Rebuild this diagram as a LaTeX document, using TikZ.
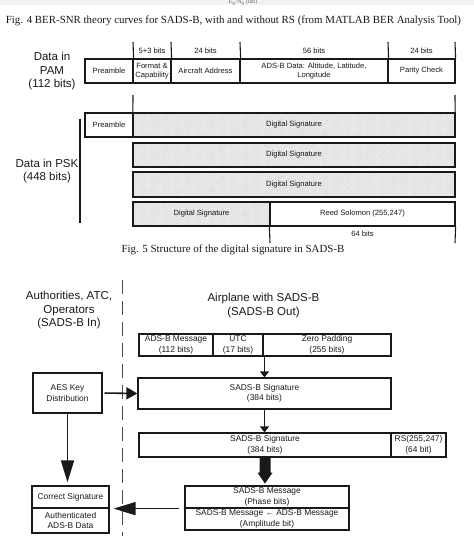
\documentclass[tikz,border=0pt]{standalone}
\usepackage{fontspec}
\setmainfont{Liberation Sans}
\newfontfamily\capfont{Liberation Serif}
\usetikzlibrary{arrows.meta,patterns.meta}
\begin{document}
\begin{tikzpicture}[x=1pt,y=-1pt,
  box/.style={draw=black!90, line width=1.2pt, inner sep=0pt, align=center, text=black!90},
  small/.style={font=\fontsize{7.6}{8.8}\selectfont},
  mid/.style={font=\fontsize{8.4}{10.6}\selectfont},
  big/.style={font=\fontsize{11.5}{13.5}\selectfont, align=center, text=black!90, inner sep=0pt},
  lbl/.style={font=\fontsize{7.6}{8.8}\selectfont, text=black!90, inner sep=0pt},
  capt/.style={font=\capfont\fontsize{10.9}{12}\selectfont, text=black!90, inner sep=0pt},
  hatch/.style={preaction={fill=gray!10}, pattern={Lines[angle=45,distance=1.3pt,line width=0.25pt]}, pattern color=gray!40},
  conn/.style={draw=black!90, line width=1.1pt},
  arrS/.style={draw=black!90, line width=1.6pt, -{Triangle[length=6pt,width=9pt]}},
  arrM/.style={draw=black!90, line width=1.6pt, -{Triangle[length=11pt,width=12pt]}},
  arrL/.style={draw=black!90, line width=1.6pt, -{Triangle[length=22pt,width=13pt]}},
  dashline/.style={draw=black!70, line width=1pt, dash pattern=on 14pt off 7pt}
]
\useasboundingbox (0,0) rectangle (474,549);
\fill[gray!10] (0,0) rectangle (474,5);
\node[font=\capfont\fontsize{6}{7}\selectfont, text=black!60, inner sep=0pt] (xlab) at (243,2.6) {E\textsubscript{b}/N\textsubscript{0} (dB)};

% ---------- Fig. 4 caption ----------
\node[capt] (cap4) at (233.5,20.5) {Fig. 4 BER-SNR theory curves for SADS-B, with and without RS (from MATLAB BER Analysis Tool)};

% ---------- Fig. 5 : PAM row ----------
\coordinate (t1) at (133,42); \coordinate (t2) at (171,42); \coordinate (t3) at (240,42);
\coordinate (t4) at (388,42); \coordinate (t5) at (455,42);
\node[box,small,minimum width=48pt,minimum height=24pt] (pre1) at (109,71) {Preamble};
\node[box,small,minimum width=38pt,minimum height=24pt] (fmt) at (152,71) {Format \&\\Capability};
\node[box,small,minimum width=69pt,minimum height=24pt] (addr) at (205.5,71) {Aircraft Address};
\node[box,small,minimum width=148pt,minimum height=24pt] (data) at (314,71) {ADS-B Data: Altitude, Latitude,\\Longitude};
\node[box,small,minimum width=67pt,minimum height=24pt] (par) at (421.5,71) {Parity Check};
\draw[conn] (t1) -- (pre1.north east);
\draw[conn] (t2) -- (fmt.north east);
\draw[conn] (t3) -- (addr.north east);
\draw[conn] (t4) -- (data.north east);
\draw[conn] (t5) -- (par.north east);
\node[lbl] (b1) at (152,51) {5+3 bits};
\node[lbl] (b2) at (205.5,51) {24 bits};
\node[lbl] (b3) at (314,51) {56 bits};
\node[lbl] (b4) at (421.5,51) {24 bits};

\node[big] (pam) at (52,71.5) {Data in\\PAM\\(112 bits)};

% ---------- PSK rows ----------
\node[box,small,minimum width=48pt,minimum height=24pt] (pre2) at (109,125) {Preamble};
\node[box,small,hatch,minimum width=322pt,minimum height=24pt] (ds1) at (294,125) {Digital Signature};
\node[box,small,hatch,minimum width=322pt,minimum height=24pt] (ds2) at (294,155) {Digital Signature};
\node[box,small,hatch,minimum width=322pt,minimum height=25pt] (ds3) at (294,184.5) {Digital Signature};
\node[box,small,hatch,minimum width=137pt,minimum height=24pt] (ds4) at (201.5,214) {Digital Signature};
\node[box,small,minimum width=185pt,minimum height=24pt] (rs) at (362.5,214) {Reed Solomon (255,247)};
\coordinate (u1) at (133,95); \coordinate (u2) at (455,95);
\draw[conn] (u1) -- (ds1.north west);
\draw[conn] (u2) -- (ds1.north east);
\coordinate (d1) at (270,243); \coordinate (d2) at (455,243);
\draw[conn] (rs.south west) -- (d1);
\draw[conn] (rs.south east) -- (d2);
\node[lbl] (b64) at (362.5,234) {64 bits};
\coordinate (br1) at (80,119); \coordinate (br2) at (80,223);
\draw[draw=black!90, line width=1.3pt] (br1) -- (br2);
\node[big] (psk) at (47,171) {Data in PSK\\(448 bits)};

% ---------- Fig. 5 caption ----------
\node[capt] (cap5) at (233,250) {Fig. 5 Structure of the digital signature in SADS-B};

% ---------- Bottom diagram ----------
\node[big] (auth) at (69,310.5) {Authorities, ATC,\\Operators\\(SADS-B In)};
\node[big] (air) at (263.5,305.5) {Airplane with SADS-B\\(SADS-B Out)};
\coordinate (dl1) at (122,280); \coordinate (dl2) at (122,536);
\draw[dashline] (dl1) -- (dl2);

\node[box,mid,minimum width=74pt,minimum height=22pt] (msg) at (176,345) {ADS-B Message\\(112 bits)};
\node[box,mid,minimum width=50pt,minimum height=22pt] (utc) at (238,345) {UTC\\(17 bits)};
\node[box,mid,minimum width=128pt,minimum height=22pt] (zero) at (327,345) {Zero Padding\\(255 bits)};

\node[box,mid,minimum width=253pt,minimum height=31pt] (sig1) at (264.5,393.5) {SADS-B Signature\\(384 bits)};
\node[box,mid,minimum width=69pt,minimum height=40pt] (aes) at (67.5,393) {AES Key\\Distribution};

\node[box,mid,minimum width=252pt,minimum height=24pt] (sig2) at (265,445) {SADS-B Signature\\(384 bits)};
\node[box,mid,minimum width=55pt,minimum height=24pt] (rs2) at (418.5,445) {RS(255,247)\\(64 bit)};

\node[box,mid,minimum width=164pt,minimum height=22pt] (m1) at (267,497) {SADS-B Message\\(Phase bits)};
\node[box,mid,minimum width=164pt,minimum height=22pt] (m2) at (267,519) {SADS-B Message \textleftarrow{} ADS-B Message\\(Amplitude bit)};

\node[box,mid,minimum width=77pt,minimum height=22pt] (c1) at (70.5,497) {Correct Signature};
\node[box,mid,minimum width=77pt,minimum height=25pt] (c2) at (70.5,520.5) {Authenticated\\ADS-B Data};

% arrows
\draw[arrS] (sig1.north |- zero.south) -- (sig1.north);
\draw[arrS] (sig1.south) -- (sig1.south |- sig2.north);
\draw[arrM, shorten <=2pt] (aes.east) -- (sig1.west);
\draw[arrL, shorten >=3pt] (aes.south) -- (aes.south |- c1.north);
\draw[arrL, shorten <=5pt, shorten >=4pt] (m1.south west) -- (c1.south east);
\coordinate (ba) at (sig2.south);
\fill[black!90] (ba) ++(-5.5,0) -- ++(11,0) -- ++(0,15) -- ++(2,0) -- ++(-7.5,11) -- ++(-7.5,-11) -- ++(2,0) -- cycle;
\end{tikzpicture}
\end{document}
